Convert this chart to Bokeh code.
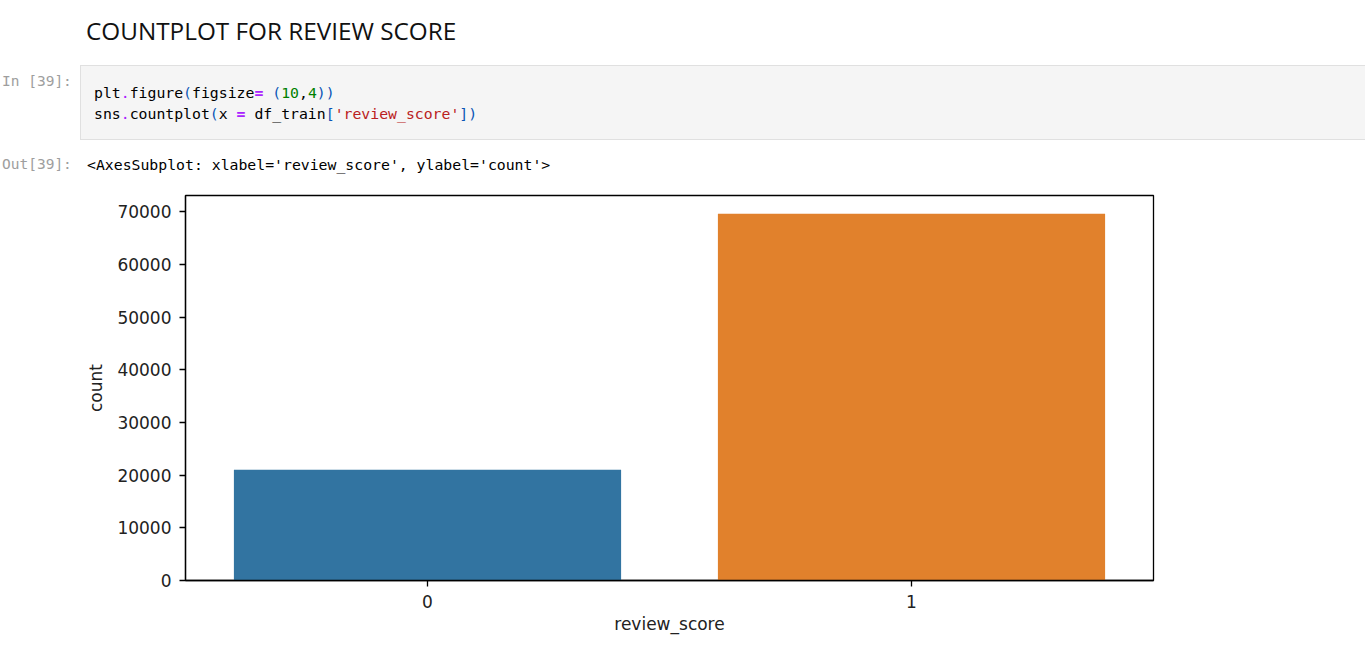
from bokeh.plotting import figure
from bokeh.models import Div, Range1d, FactorRange, FixedTicker, ColumnDataSource, NumeralTickFormatter
from bokeh.layouts import column
from bokeh.embed import file_html
from bokeh.resources import INLINE

# ---- data ----
categories = ["0", "1"]
counts = [21000, 69600]
bar_colors = ["#3274a1", "#e1812c"]
y_ticks = [0, 10000, 20000, 30000, 40000, 50000, 60000, 70000]

heading = "COUNTPLOT FOR REVIEW SCORE"
in_prompt = "In [39]:"
out_prompt = "Out[39]:"
out_text = "&lt;AxesSubplot: xlabel='review_score', ylabel='count'&gt;"

MONO = "'DejaVu Sans Mono', monospace"
P = "color:#aa22ff;"
B = "color:#0b55b5;"
G = "color:#008000;"
R = "color:#ba2121;"
code_line1 = (f"plt<span style='{P}'>.</span>figure<span style='{B}'>(</span>figsize"
              f"<span style='{P}font-weight:bold'>=</span> <span style='{B}'>(</span>"
              f"<span style='{G}'>10</span>,<span style='{G}'>4</span>"
              f"<span style='{B}'>))</span>")
code_line2 = (f"sns<span style='{P}'>.</span>countplot<span style='{B}'>(</span>x "
              f"<span style='{P}font-weight:bold'>=</span> df_train<span style='{B}'>[</span>"
              f"<span style='{R}'>'review_score'</span><span style='{B}'>])</span>")

html = f"""
<div style="position:relative;width:1349px;height:180px;overflow:visible;">
  <div style="position:absolute;left:81px;top:11px;line-height:30px;height:30px;
       font-family:'Open Sans';font-size:24.3px;color:#111;white-space:nowrap;">{heading}</div>
  <div style="position:absolute;left:-3px;top:66px;line-height:21px;font-family:{MONO};
       font-size:14.5px;color:#9e9e9e;white-space:nowrap;">{in_prompt}</div>
  <div style="position:absolute;left:75px;top:60px;width:1290px;height:75px;box-sizing:border-box;
       background:#f5f5f5;border:1px solid #e0e0e0;"></div>
  <div style="position:absolute;left:89px;top:77px;line-height:21px;font-family:{MONO};
       font-size:14.8px;color:#000;white-space:pre;">{code_line1}<br>{code_line2}</div>
  <div style="position:absolute;left:-3px;top:149px;line-height:21px;font-family:{MONO};
       font-size:14.5px;color:#9e9e9e;white-space:nowrap;">{out_prompt}</div>
  <div style="position:absolute;left:82px;top:149px;line-height:21px;font-family:{MONO};
       font-size:14.8px;color:#000;white-space:pre;">{out_text}</div>
</div>
"""
header = Div(text=html, width=1349, height=180)

src = ColumnDataSource(dict(x=categories, top=counts, color=bar_colors))

p = figure(x_range=FactorRange(*categories), y_range=Range1d(0, max(counts) * 1.05),
           frame_width=968, frame_height=385,
           min_border_left=185, min_border_right=196, min_border_top=5, min_border_bottom=58,
           output_backend="svg", toolbar_location=None, tools="")
p.vbar(x="x", top="top", width=0.8, color="color", line_color=None, source=src)

p.x_range.range_padding = 0
p.xgrid.visible = False
p.ygrid.visible = False
p.outline_line_color = "black"
p.outline_line_width = 1.3
p.outline_line_alpha = 1

p.yaxis.ticker = FixedTicker(ticks=y_ticks)
p.yaxis.formatter = NumeralTickFormatter(format="0")
p.yaxis.axis_label = "count"
p.xaxis.axis_label = "review_score"

for ax in (p.xaxis[0], p.yaxis[0]):
    ax.axis_line_color = "black"
    ax.axis_line_width = 1.3
    ax.major_tick_line_color = "black"
    ax.major_tick_line_width = 1.3
    ax.major_tick_out = 6
    ax.major_tick_in = 0
    ax.minor_tick_line_color = None
    ax.major_label_text_font = "DejaVu Sans"
    ax.major_label_text_font_size = "17px"
    ax.major_label_text_color = "#222222"
    ax.axis_label_text_font = "DejaVu Sans"
    ax.axis_label_text_font_size = "17px"
    ax.axis_label_text_font_style = "normal"
    ax.axis_label_text_color = "#222222"

p.yaxis.major_label_standoff = 8
p.xaxis.major_label_standoff = 8
p.yaxis.axis_label_standoff = 8
p.xaxis.axis_label_standoff = 3

layout = column(header, p, spacing=0)
open("out.html", "w").write(file_html(layout, INLINE))
